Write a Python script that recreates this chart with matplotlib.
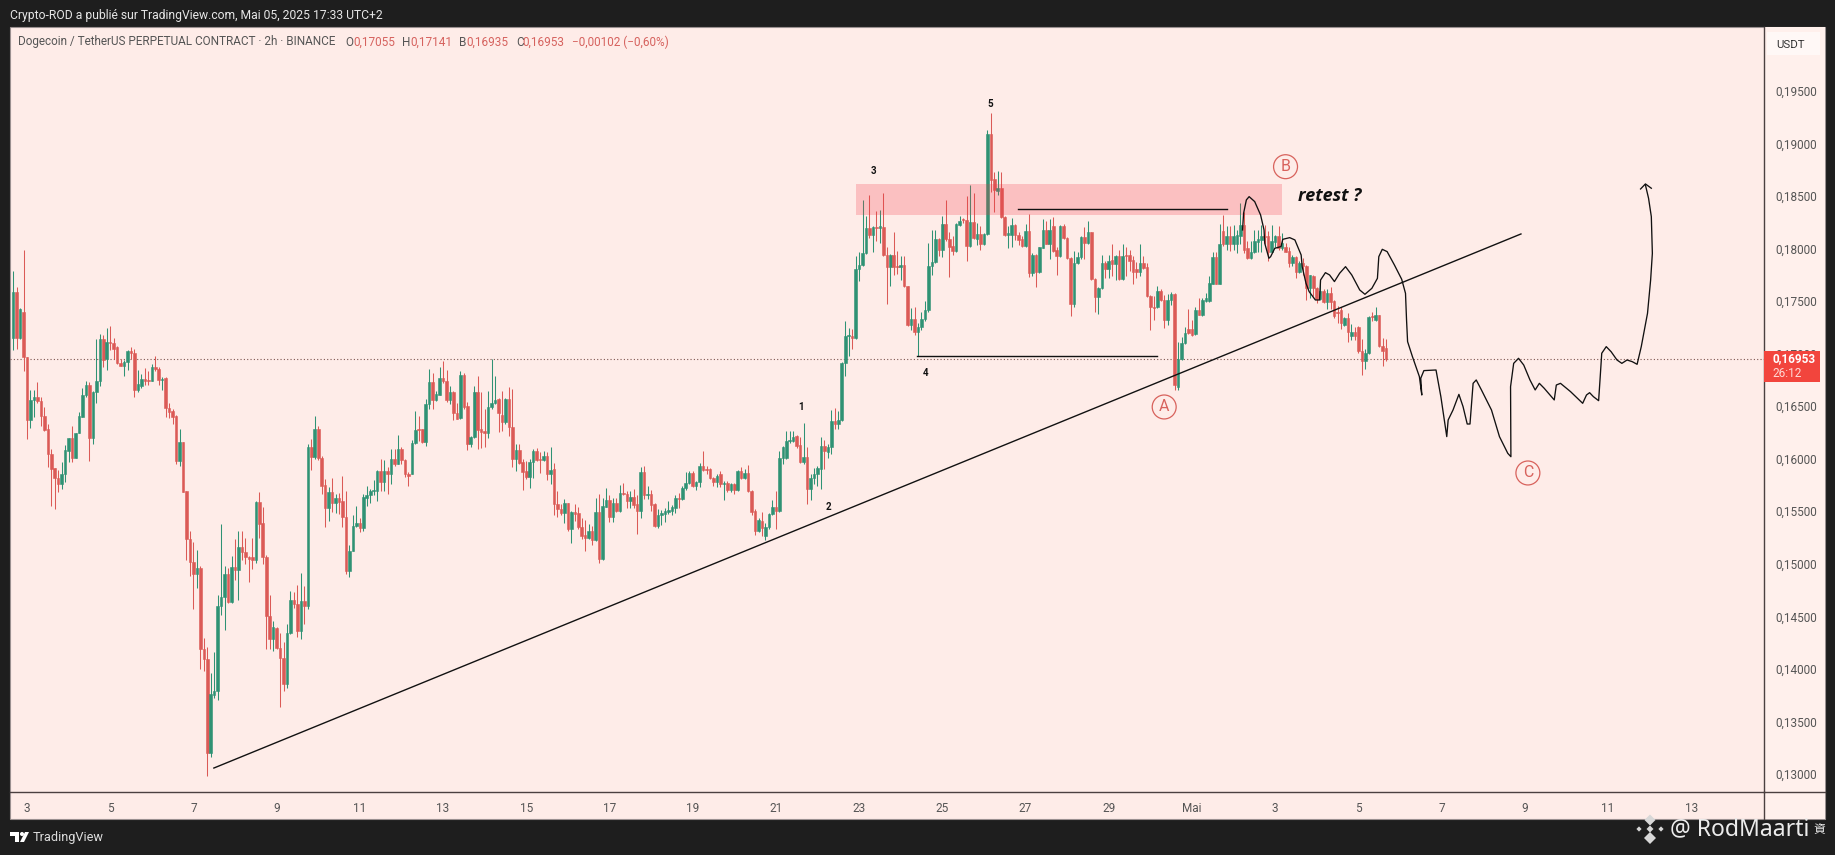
import numpy as np
import matplotlib
matplotlib.use('Agg')
import matplotlib.pyplot as plt
from matplotlib.patches import Rectangle, Polygon, Circle

# candles, 2h bars, prices in units of 0.0001
opens = [
1715,1759,1715,1740,1697,1637,1656,1659,1655,1641,
1628,1604,1591,1582,1576,1585,1607,1620,1601,1624,
1640,1661,1670,1620,1663,1674,1714,1695,1711,1710,
1706,1691,1688,1692,1702,1701,1665,1669,1676,1675,
1674,1687,1685,1675,1677,1648,1645,1641,1598,1616,
1569,1524,1502,1490,1496,1419,1409,1320,1375,1379,
1460,1468,1490,1464,1497,1494,1516,1511,1506,1506,
1504,1559,1539,1506,1450,1428,1439,1420,1410,1386,
1434,1466,1462,1436,1465,1460,1611,1602,1628,1601,
1575,1553,1568,1558,1563,1560,1545,1493,1512,1536,
1539,1534,1563,1565,1569,1569,1588,1578,1588,1585,
1600,1595,1609,1599,1585,1585,1615,1628,1628,1616,
1652,1673,1656,1661,1677,1674,1656,1663,1643,1639,
1680,1650,1614,1621,1663,1628,1626,1624,1649,1653,
1657,1642,1635,1657,1630,1600,1608,1597,1588,1583,
1597,1607,1600,1599,1603,1585,1590,1557,1552,1548,
1558,1533,1549,1548,1535,1527,1525,1531,1523,1549,
1505,1554,1561,1545,1558,1550,1567,1566,1560,1564,
1557,1550,1587,1565,1566,1557,1536,1546,1547,1549,
1550,1553,1563,1562,1572,1577,1586,1574,1578,1593,
1590,1590,1582,1578,1585,1576,1577,1570,1576,1570,
1588,1582,1586,1569,1550,1531,1541,1526,1535,1547,
1554,1550,1601,1601,1617,1617,1622,1613,1597,1602,
1571,1582,1585,1590,1612,1606,1611,1636,1633,1637,
1691,1717,1717,1715,1780,1784,1796,1819,1813,1820,
1819,1820,1794,1782,1794,1783,1782,1784,1764,1727,
1733,1721,1725,1733,1741,1783,1787,1809,1799,1823,
1809,1802,1798,1822,1828,1827,1802,1825,1809,1814,
1804,1814,1909,1866,1855,1858,1830,1813,1813,1822,
1813,1809,1802,1817,1777,1794,1778,1800,1818,1804,
1821,1799,1793,1821,1810,1791,1747,1786,1792,1811,
1805,1816,1771,1754,1762,1786,1780,1789,1785,1793,
1771,1794,1794,1789,1780,1778,1786,1782,1755,1744,
1744,1760,1751,1732,1751,1757,1668,1695,1710,1723,
1723,1719,1741,1737,1750,1750,1766,1792,1766,1817,
1804,1812,1804,1804,1812,1822,1800,1791,1797,1806,
1808,1812,1812,1797,1806,1812,1800,1801,1798,1786,
1792,1778,1786,1783,1762,1774,1762,1752,1760,1749,
1758,1750,1740,1741,1727,1734,1717,1721,1725,1702,
1693,1701,1736,1732,1737,1707,1705]
highs = [
1779,1763,1743,1799,1697,1665,1665,1673,1659,1649,
1633,1609,1591,1589,1597,1613,1620,1631,1624,1644,
1667,1674,1673,1664,1714,1719,1718,1724,1726,1715,
1707,1695,1694,1703,1706,1704,1684,1681,1686,1683,
1690,1698,1687,1678,1678,1653,1647,1642,1628,1616,
1569,1531,1521,1513,1498,1429,1421,1396,1416,1470,
1538,1498,1496,1507,1524,1531,1531,1525,1507,1525,
1560,1568,1554,1508,1470,1446,1440,1434,1426,1443,
1474,1473,1480,1491,1479,1614,1619,1641,1631,1603,
1581,1573,1582,1566,1567,1584,1569,1518,1546,1555,
1544,1566,1574,1571,1580,1589,1600,1599,1592,1609,
1609,1623,1611,1600,1587,1618,1645,1641,1628,1657,
1685,1682,1664,1687,1693,1684,1669,1664,1653,1683,
1682,1654,1622,1669,1679,1663,1647,1664,1695,1679,
1658,1664,1658,1668,1666,1614,1614,1600,1598,1600,
1609,1610,1606,1607,1606,1611,1596,1569,1557,1562,
1558,1550,1557,1554,1544,1542,1538,1536,1563,1566,
1563,1572,1565,1563,1563,1575,1577,1569,1569,1571,
1565,1592,1593,1574,1570,1558,1552,1551,1553,1560,
1556,1565,1567,1574,1587,1588,1588,1579,1596,1607,
1593,1591,1583,1585,1588,1579,1579,1577,1577,1589,
1592,1590,1594,1570,1552,1544,1549,1539,1548,1561,
1569,1607,1612,1626,1626,1626,1623,1621,1634,1611,
1585,1591,1593,1621,1618,1614,1646,1648,1645,1692,
1731,1724,1723,1793,1797,1846,1831,1851,1821,1836,
1837,1853,1801,1795,1816,1798,1793,1793,1764,1743,
1744,1729,1740,1750,1805,1818,1818,1810,1831,1846,
1816,1812,1824,1831,1829,1850,1860,1853,1824,1821,
1815,1913,1929,1873,1874,1873,1831,1821,1829,1823,
1816,1812,1823,1833,1796,1795,1801,1828,1826,1828,
1830,1801,1822,1823,1811,1792,1798,1797,1812,1820,
1826,1816,1772,1763,1794,1788,1794,1804,1794,1799,
1804,1801,1799,1793,1787,1804,1793,1786,1756,1755,
1764,1761,1756,1757,1759,1758,1711,1716,1725,1742,
1732,1744,1753,1753,1758,1774,1797,1797,1823,1832,
1821,1821,1822,1818,1843,1835,1807,1807,1818,1818,
1822,1822,1817,1822,1813,1821,1815,1805,1801,1794,
1793,1788,1791,1784,1775,1775,1763,1769,1761,1761,
1763,1751,1745,1744,1735,1739,1728,1725,1726,1714,
1704,1736,1740,1744,1737,1715,1714]
lows = [
1703,1704,1714,1683,1619,1629,1640,1653,1631,1626,
1592,1555,1552,1568,1571,1578,1597,1597,1601,1624,
1640,1659,1598,1614,1653,1669,1687,1684,1703,1695,
1690,1688,1679,1684,1695,1659,1663,1667,1670,1670,
1674,1683,1670,1665,1640,1639,1633,1595,1593,1568,
1504,1488,1457,1477,1400,1398,1298,1316,1372,1370,
1451,1437,1463,1463,1485,1466,1504,1500,1483,1495,
1501,1525,1500,1419,1419,1417,1419,1364,1379,1382,
1433,1458,1430,1428,1443,1457,1589,1600,1599,1566,
1535,1541,1549,1548,1547,1535,1490,1487,1512,1535,
1530,1531,1555,1558,1565,1560,1569,1569,1566,1576,
1593,1595,1595,1583,1574,1585,1614,1617,1615,1612,
1647,1647,1655,1661,1672,1654,1652,1637,1638,1638,
1647,1608,1611,1620,1609,1610,1611,1620,1647,1652,
1625,1626,1633,1622,1592,1588,1595,1570,1581,1572,
1582,1598,1586,1598,1580,1576,1546,1545,1546,1539,
1531,1520,1541,1533,1524,1512,1524,1518,1522,1501,
1504,1554,1540,1540,1549,1549,1565,1553,1553,1553,
1528,1544,1562,1562,1550,1535,1534,1537,1540,1547,
1546,1548,1553,1561,1570,1576,1573,1570,1573,1588,
1585,1581,1574,1573,1573,1561,1568,1568,1566,1569,
1581,1581,1568,1546,1527,1530,1526,1523,1533,1546,
1533,1549,1595,1600,1615,1616,1610,1596,1595,1557,
1561,1576,1574,1571,1590,1601,1604,1628,1628,1636,
1679,1698,1704,1714,1769,1783,1795,1810,1797,1807,
1805,1793,1747,1764,1775,1776,1770,1763,1726,1722,
1718,1698,1722,1731,1740,1775,1786,1793,1792,1807,
1773,1794,1797,1821,1824,1788,1801,1809,1803,1799,
1803,1813,1854,1835,1851,1829,1812,1800,1801,1808,
1803,1801,1801,1773,1774,1763,1777,1800,1804,1790,
1797,1775,1792,1809,1790,1736,1744,1785,1790,1790,
1804,1770,1740,1738,1761,1772,1772,1774,1770,1770,
1770,1774,1779,1766,1772,1774,1780,1754,1722,1732,
1743,1750,1724,1727,1746,1665,1665,1694,1709,1719,
1717,1718,1737,1736,1749,1749,1766,1766,1766,1802,
1799,1798,1799,1796,1804,1796,1790,1790,1796,1797,
1797,1804,1788,1797,1801,1799,1799,1797,1782,1783,
1772,1777,1775,1751,1753,1755,1748,1751,1748,1742,
1742,1734,1729,1723,1726,1711,1713,1713,1701,1680,
1685,1700,1731,1731,1706,1688,1693]
closes = [
1759,1715,1742,1697,1637,1656,1659,1655,1641,1627,
1604,1590,1582,1576,1585,1608,1620,1601,1624,1641,
1661,1670,1620,1663,1674,1714,1694,1711,1710,1704,
1691,1688,1692,1702,1701,1665,1671,1676,1674,1674,
1687,1685,1675,1676,1648,1644,1640,1598,1616,1568,
1524,1502,1490,1496,1419,1409,1320,1376,1379,1460,
1468,1490,1464,1497,1494,1516,1511,1506,1505,1504,
1559,1538,1506,1450,1428,1440,1420,1410,1386,1434,
1466,1462,1436,1465,1460,1611,1602,1628,1601,1574,
1553,1568,1558,1563,1559,1545,1493,1512,1536,1539,
1534,1564,1565,1569,1570,1588,1578,1588,1585,1600,
1595,1609,1599,1585,1584,1615,1627,1627,1616,1652,
1673,1656,1662,1677,1674,1656,1663,1643,1638,1680,
1649,1614,1621,1663,1627,1625,1624,1649,1653,1656,
1643,1635,1657,1630,1600,1608,1596,1587,1583,1597,
1607,1599,1599,1603,1585,1589,1557,1552,1548,1558,
1533,1549,1547,1535,1526,1525,1531,1523,1549,1505,
1555,1561,1545,1558,1550,1567,1566,1560,1564,1556,
1550,1587,1565,1566,1556,1536,1546,1548,1550,1551,
1554,1563,1562,1572,1577,1586,1574,1578,1593,1589,
1589,1582,1578,1584,1576,1577,1570,1576,1570,1588,
1582,1586,1569,1549,1531,1542,1534,1535,1547,1554,
1550,1601,1611,1617,1618,1621,1612,1597,1602,1571,
1582,1585,1591,1612,1607,1611,1636,1633,1637,1691,
1717,1718,1715,1780,1784,1796,1819,1813,1820,1819,
1821,1794,1782,1794,1782,1782,1784,1764,1727,1733,
1721,1725,1733,1741,1783,1787,1809,1799,1823,1809,
1801,1798,1823,1826,1827,1802,1825,1810,1814,1804,
1814,1909,1865,1856,1858,1830,1813,1815,1822,1813,
1808,1802,1817,1777,1794,1778,1801,1818,1804,1818,
1798,1793,1821,1810,1791,1747,1786,1792,1811,1805,
1816,1771,1754,1762,1786,1780,1788,1785,1793,1771,
1793,1793,1788,1778,1778,1786,1781,1755,1744,1743,
1760,1751,1732,1751,1757,1670,1695,1710,1720,1720,
1718,1741,1737,1751,1753,1767,1792,1766,1804,1804,
1812,1804,1812,1813,1822,1799,1791,1797,1807,1809,
1812,1811,1797,1807,1812,1800,1805,1797,1786,1792,
1778,1786,1783,1762,1775,1762,1752,1760,1749,1758,
1749,1736,1739,1729,1734,1721,1721,1717,1702,1693,
1701,1735,1735,1737,1707,1702,1695]

first_bar = -4  # bar 0 is Apr 3 00:00

y_ticks = [0.13, 0.135, 0.14, 0.145, 0.15, 0.155, 0.16, 0.165, 0.17, 0.175, 0.18, 0.185, 0.19, 0.195]
y_labels = ['0,13000', '0,13500', '0,14000', '0,14500', '0,15000', '0,15500', '0,16000',
            '0,16500', '0,17000', '0,17500', '0,18000', '0,18500', '0,19000', '0,19500']
x_ticks = [0, 24, 48, 72, 96, 120, 144, 168, 192, 216, 240, 264, 288, 312, 336, 360, 384, 408, 432, 456, 480]
x_labels = ['3', '5', '7', '9', '11', '13', '15', '17', '19', '21', '23', '25', '27', '29', 'Mai',
            '3', '5', '7', '9', '11', '13']

last_price = 0.16953

# drawings, in bar index / price units of 0.0001
trend_x = [53.9, 430.9]
trend_y = [1305.7, 1813.8]
support_x = [256.7, 325.9]
support_y = [1698, 1698]
resist_x = [285.8, 346.1]
resist_y = [1837.6, 1837.6]
zone_x = [239.1, 362.0]
zone_y = [1831.9, 1861.4]

path_x = [350.6,350.9,351.7,352.5,354.1,355.8,356.8,357.0,358.2,358.7,359.9,361.7,362.2,364.2,365.7,
          367.5,367.8,368.9,369.8,371.6,372.8,373.1,374.5,375.7,377.1,378.6,380.3,382.1,384.4,385.9,
          387.9,389.5,389.9,390.9,392.3,394.4,396.5,397.6,397.9,398.2,399.6,401.6,402.3,402.0,402.9,
          406.4,407.8,409.5,409.9,411.3,413.0,414.2,415.4,416.2,417.1,418.0,419.5,422.4,424.7,427.1,
          428.0,427.9,428.8,430.2,431.7,433.5,435.0,436.2,437.6,440.5,441.1,442.3,445.2,448.7,449.8,
          450.7,451.8,453.3,453.7,454.2,455.5,456.9,458.6,460.0,461.5,463.0,464.4,465.6,467.4,468.3,
          468.8,468.5,467.7,466.8]
path_y = [1817.6,1833.5,1846.2,1849.3,1844.6,1831.9,1817.6,1805,1790.7,1792.2,1800.2,1801.8,1808.7,1810.3,1808.1,
          1793.8,1782.7,1766.9,1759,1751,1751,1770,1777,1774.8,1768.5,1776.4,1782.7,1774.8,1760.5,1756.4,
          1762.1,1771.6,1792.2,1799.2,1797,1784.3,1770.7,1757.3,1732,1711.4,1697.1,1678.1,1660.6,1676.5,1683.8,
          1684.4,1659,1621,1636.8,1646.3,1661.2,1649.5,1633,1633,1671.7,1674.9,1665.4,1646.3,1621,1605.1,
          1601.9,1668.5,1690.7,1695.5,1689.1,1674.9,1665.4,1671.7,1667,1655.9,1670.1,1671.7,1663.8,1652.7,1660.6,
          1662.8,1659,1655.2,1674.9,1700.3,1706.6,1701.8,1693.9,1690.7,1693.9,1692.3,1689.8,1706.6,1738.3,1770,
          1795.4,1830.3,1847.8,1860.4]
head_x = [465.4, 466.8, 468.5]
head_y = [1856.6, 1861.4, 1857.3]

wave_labels = ['1', '2', '3', '4', '5']
wave_x = [223.2, 231.2, 244.1, 259.1, 277.8]
wave_y = [1649, 1554.3, 1873.8, 1681.3, 1937.5]
abc_labels = ['A', 'B', 'C']
abc_x = [328, 363, 432.9]
abc_y = [1649.2, 1877.8, 1586.4]

W, H = 1835, 855
GREEN = '#2f9274'
RED = '#db5a56'
DARK = '#1e1e1e'
PANEL = '#feece8'
LINE = '#4b4040'
GREY = '#555555'

plt.rcParams['font.family'] = ['Roboto', 'DejaVu Sans']

fig = plt.figure(figsize=(W / 100, H / 100), dpi=100, facecolor=DARK)

# back layer in pixels: panel and frame
bg = fig.add_axes([0, 0, 1, 1], zorder=0)
bg.set_xlim(0, W)
bg.set_ylim(H, 0)
bg.axis('off')
bg.add_patch(Rectangle((10, 27), 1815, 792, facecolor=PANEL, edgecolor='#9a9090', lw=0.8))
bg.add_patch(Rectangle((1764, 27), 61, 792, facecolor='#fff0ec', edgecolor='none'))

# price chart
ax = fig.add_axes([10 / W, 1 - 792 / H, 1754 / W, 765 / H], zorder=1)
ax.patch.set_alpha(0)
ax.set_xlim(-4.9, 501.0)
ax.set_ylim(0.12829, 0.20107)

x = np.arange(first_bar, first_bar + len(closes))
o = np.array(opens) / 10000
h = np.array(highs) / 10000
l = np.array(lows) / 10000
c = np.array(closes) / 10000
colors = np.where(c >= o, GREEN, RED)

ax.vlines(x, l, h, colors=colors, lw=0.75, zorder=2)
ax.bar(x, np.abs(c - o), bottom=np.minimum(o, c), width=0.74, color=colors,
       edgecolor=colors, lw=0.4, zorder=3)

ax.axhline(last_price, color='#7d5550', lw=0.8, ls=(0, (1, 2)), zorder=1)

ax.add_patch(Rectangle((zone_x[0], zone_y[0] / 10000), zone_x[1] - zone_x[0], (zone_y[1] - zone_y[0]) / 10000,
                       facecolor='#f23645', edgecolor='none', alpha=0.24, zorder=4))

ax.plot(trend_x, np.array(trend_y) / 10000, color='#111111', lw=1.0, zorder=5)
ax.plot(support_x, np.array(support_y) / 10000, color='#111111', lw=1.0, zorder=5)
ax.plot(resist_x, np.array(resist_y) / 10000, color='#111111', lw=1.0, zorder=5)
ax.plot(path_x, np.array(path_y) / 10000, color='#111111', lw=0.95, zorder=5, solid_joinstyle='round')
ax.plot(head_x, np.array(head_y) / 10000, color='#111111', lw=0.95, zorder=5)

for t, px, py in zip(wave_labels, wave_x, wave_y):
    ax.text(px, py / 10000, t, ha='center', va='center', fontsize=7, fontweight='bold', color='#111111', zorder=6)
for t, px, py in zip(abc_labels, abc_x, abc_y):
    ax.text(px, py / 10000, t, ha='center', va='center', fontsize=11.5, color='#d8625c', zorder=6,
            bbox=dict(boxstyle='circle,pad=0.28', fc='none', ec='#d8625c', lw=0.9))
ax.text(366.6, 0.1850, 'retest ?', ha='left', va='center', fontsize=13, fontweight='bold', style='italic',
        family='Open Sans', color='#111111', zorder=6)

ax.set_yticks(y_ticks)
ax.set_yticklabels(y_labels)
ax.set_xticks(x_ticks)
ax.set_xticklabels(x_labels)
ax.yaxis.tick_right()
ax.tick_params(axis='y', length=0, pad=8, labelsize=8.5, labelcolor=GREY)
ax.tick_params(axis='x', length=0, pad=7, labelsize=8.5, labelcolor=GREY)
for side in ['top', 'left']:
    ax.spines[side].set_visible(False)
for side in ['right', 'bottom']:
    ax.spines[side].set_color(LINE)
    ax.spines[side].set_linewidth(1.0)

# front layer in pixels: header, tag, footer
fg = fig.add_axes([0, 0, 1, 1], zorder=2)
fg.set_xlim(0, W)
fg.set_ylim(H, 0)
fg.axis('off')
fg.patch.set_alpha(0)
fg.plot([1764, 1764], [792, 819], color=LINE, lw=1.0)
fg.plot([1764, 1825], [792, 792], color=LINE, lw=1.0)

fg.text(10, 15, 'Crypto-ROD a publié sur TradingView.com, Mai 05, 2025 17:33 UTC+2', color='#e6e6e6',
        fontsize=8.7, va='center', ha='left')

LEG = '#555555'
LEGR = '#d6625e'
legend_parts = [
    (18, 'Dogecoin / TetherUS PERPETUAL CONTRACT · 2h · BINANCE', LEG),
    (345, 'O', LEG), (353, '0,17055', LEGR),
    (402, 'H', LEG), (410, '0,17141', LEGR),
    (459, 'B', LEG), (466, '0,16935', LEGR),
    (516, 'C', LEG), (522, '0,16953', LEGR),
    (572, '−0,00102 (−0,60%)', LEGR),
]
for px, t, col in legend_parts:
    fg.text(px, 42, t, color=col, fontsize=8.45, va='center', ha='left')

# USDT box
fg.add_patch(Rectangle((1767, 32), 53, 23, facecolor='#fff8f6', edgecolor='none'))
fg.text(1790, 45, 'USDT', color='#333333', fontsize=8.2, ha='center', va='center')

# last price tag
fg.add_patch(Rectangle((1764, 351), 56, 31, facecolor='#f2453d', edgecolor='none'))
fg.text(1772, 359, '0,16953', color='white', fontsize=8.5, fontweight='bold', va='center', ha='left')
fg.text(1772, 373, '26:12', color='#ffd9d5', fontsize=8.5, va='center', ha='left')

# TradingView logo + name
fg.add_patch(Polygon([(10, 832), (19, 832), (19, 842), (15, 842), (15, 836), (10, 836)], fc='white', ec='none'))
fg.add_patch(Circle((22, 834), 2, fc='white', ec='none'))
fg.add_patch(Polygon([(25, 832), (29, 832), (24, 842), (20, 842)], fc='white', ec='none'))
fg.text(33, 837, 'TradingView', color='#dddddd', fontsize=9.2, va='center', ha='left')

# watermark
for cx, cy, r in [(1650, 820, 5.5), (1650, 829, 3.5), (1639, 829, 2.6), (1661, 829, 2.6), (1650, 838, 6)]:
    fg.add_patch(Polygon([(cx, cy - r), (cx + r, cy), (cx, cy + r), (cx - r, cy)], fc='#d8d8d8', ec='none'))
fg.text(1670, 829, '@ RodMaarti', color='#ececec', fontsize=16.5, family='Noto Sans', va='center', ha='left')
fg.text(1819, 830, '資', color='#ececec', fontsize=8.5, family='Noto Sans CJK JP', va='center', ha='center')

fig.savefig('out.png', dpi=100, facecolor=DARK)
